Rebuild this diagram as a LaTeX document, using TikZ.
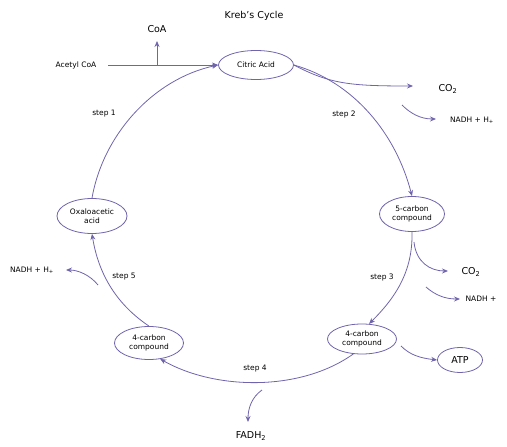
\documentclass[tikz,border=0pt]{standalone}
\usepackage{fontspec}
\setmainfont{DejaVu Sans}
\usetikzlibrary{shapes.geometric,arrows.meta}
\definecolor{cyc}{RGB}{112,100,172}
\tikzset{
  stage/.style={ellipse,draw=cyc,line width=0.8pt,inner sep=0pt,font=\fontsize{7.5}{9}\selectfont,align=center},
  lbl/.style={font=\fontsize{7.5}{9}\selectfont,inner sep=0pt},
  big/.style={font=\fontsize{9.5}{11}\selectfont,inner sep=0pt},
  flow/.style={draw=cyc,line width=0.8pt,-{Stealth[length=6pt,width=5pt]}},
}
\begin{document}
\begin{tikzpicture}[x=1pt,y=-1pt]
\useasboundingbox (0,0) rectangle (507,447);
% stages
\node[stage,minimum width=75pt,minimum height=29pt] (cit) at (256,65) {Citric Acid};
\node[stage,minimum width=65pt,minimum height=35pt] (c5) at (412,214) {5-carbon\\compound};
\node[stage,minimum width=69pt,minimum height=30pt] (c4r) at (362,339) {4-carbon\\compound};
\node[stage,minimum width=45pt,minimum height=25pt,font=\fontsize{9.5}{11}\selectfont] (atp) at (460,360) {ATP};
\node[stage,minimum width=70pt,minimum height=35pt] (oxa) at (92,216) {Oxaloacetic\\acid};
\node[stage,minimum width=69pt,minimum height=33pt] (c4l) at (149,343) {4-carbon\\compound};
% texts
\node[big] (title) at (254,16) {Kreb's Cycle};
\node[big] (coa) at (157,29) {CoA};
\node[lbl] (acetyl) at (76,65) {Acetyl CoA};
\node[lbl] (s1) at (104,114) {step 1};
\node[lbl] (s2) at (344,114) {step 2};
\node[lbl] (s3) at (382,277) {step 3};
\node[lbl] (s4) at (255,369) {step 4};
\node[lbl] (s5) at (124,277) {step 5};
\node[big] (co2a) at (448,89) {CO\textsubscript{2}};
\node[lbl] (nadha) at (472,120) {NADH + H\textsubscript{+}};
\node[big] (co2b) at (471,272) {CO\textsubscript{2}};
\node[lbl] (nadhb) at (481,299) {NADH +};
\node[lbl] (nadhc) at (32,270) {NADH + H\textsubscript{+}};
\node[big] (fadh) at (251,436) {FADH\textsubscript{2}};
% free ends
\coordinate (acs) at (108,65);
\coordinate (br) at (157,65);
\coordinate (coaend) at (157,41);
\coordinate (co2aend) at (413,86);
\coordinate (nadhas) at (402,105);
\coordinate (nadhae) at (436,119);
\coordinate (co2bs) at (414,242);
\coordinate (co2be) at (448,271);
\coordinate (nadhbs) at (426,287);
\coordinate (nadhbe) at (460,299);
\coordinate (atps) at (401,346);
\coordinate (fads) at (262,390);
\coordinate (fade) at (248,422);
\coordinate (nadhcs) at (98,285);
\coordinate (nadhce) at (66,270);
% cycle
\draw[flow] (oxa.north) .. controls (103,135) and (153,79) .. (cit.west);
\draw[flow] (cit.east) .. controls (354,82) and (396,134) .. (c5.north);
\draw[flow] (c5.south) .. controls (413,272) and (395,298) .. (c4r.65);
\draw[flow] (c4r.240) .. controls (300,392) and (215,390) .. (c4l.-55);
\draw[flow] (c4l.north) .. controls (110,300) and (97,265) .. (oxa.south);
% side arrows
\draw[draw=cyc,line width=0.8pt] (acs) -- (br);
\draw[flow] (br) -- (cit.west);
\draw[flow] (br) -- (coaend);
\draw[flow] (cit.east) .. controls (330,84) and (350,86) .. (co2aend);
\draw[flow] (nadhas) .. controls (410,113) and (420,119) .. (nadhae);
\draw[flow] (co2bs) .. controls (416,262) and (430,271) .. (co2be);
\draw[flow] (nadhbs) .. controls (435,295) and (445,299) .. (nadhbe);
\draw[flow] (atps) .. controls (410,355) and (420,358) .. (atp.west);
\draw[flow] (fads) .. controls (252,397) and (248,408) .. (fade);
\draw[flow] (nadhcs) .. controls (90,275) and (78,270) .. (nadhce);
\end{tikzpicture}
\end{document}
